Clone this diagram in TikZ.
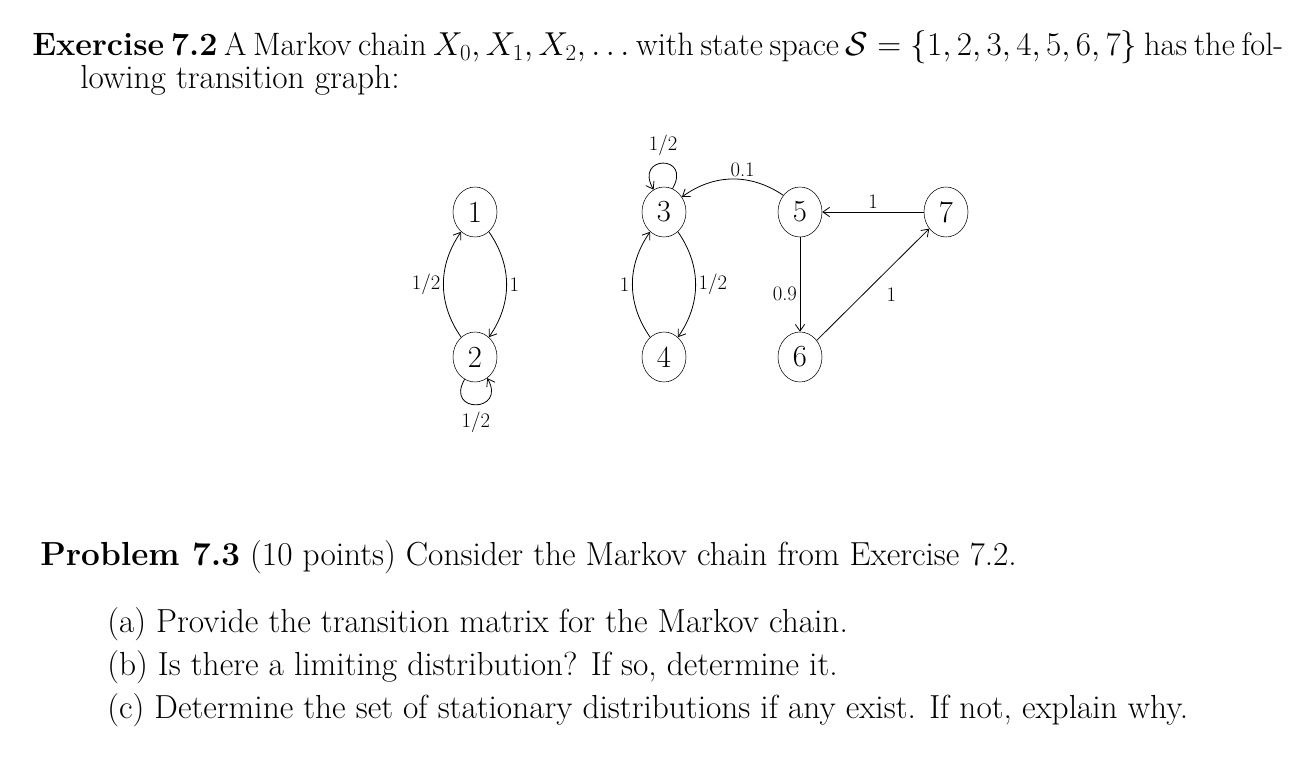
\documentclass[tikz,border=0pt]{standalone}
\usepackage{amsmath,amssymb}
\usetikzlibrary{shapes.geometric,arrows.meta}
\begin{document}
\begin{tikzpicture}[x=0.75pt,y=-0.75pt,
  st/.style={draw,ellipse,minimum width=33pt,minimum height=37.5pt,inner sep=0pt,font=\fontsize{23}{26}\selectfont},
  lab/.style={font=\fontsize{15.5}{18}\selectfont,inner sep=2pt},
  txt/.style={anchor=base west,inner sep=0pt,font=\fontsize{25}{28}\selectfont},
  ed/.style={->,>={Straight Barb[length=5pt,width=7pt]},line width=0.6pt}]
\useasboundingbox (0,0) rectangle (1314,784);
\node[txt,font=\fontsize{24.3}{28}\selectfont] (t1) at (32,56) {\spaceskip=0.3em plus 0.2em minus 0.2em\hbox to 938.25pt{\textbf{Exercise 7.2} A Markov chain $X_0,X_1,X_2,\ldots$ with state space $\mathcal{S}=\{1,2,3,4,5,6,7\}$ has the fol-}};
\node[txt] (t2) at (80,89) {lowing transition graph:};
\node[txt] (t3) at (40,565) {\textbf{Problem 7.3} (10 points) Consider the Markov chain from Exercise 7.2.};
\node[txt] (ta) at (107,632) {(a) Provide the transition matrix for the Markov chain.};
\node[txt] (tb) at (107,675) {(b) Is there a limiting distribution? If so, determine it.};
\node[txt] (tc) at (107,718) {(c) Determine the set of stationary distributions if any exist. If not, explain why.};
\node[st] (n1) at (475,212) {1};
\node[st] (n2) at (475,357) {2};
\node[st] (n3) at (664,212) {3};
\node[st] (n4) at (664,357) {4};
\node[st] (n5) at (800,212) {5};
\node[st] (n6) at (800,357) {6};
\node[st] (n7) at (946,212) {7};
\draw[ed] (n1) to[bend left=35] node[lab,right] {1} (n2);
\draw[ed] (n2) to[bend left=35] node[lab,left] {1/2} (n1);
\draw[ed] (n3) to[bend left=35] node[lab,right] {1/2} (n4);
\draw[ed] (n4) to[bend left=35] node[lab,left] {1} (n3);
\draw[ed] (n2.-115) .. controls +(-120:30pt) and +(-60:30pt) .. node[lab,below=3pt] {1/2} (n2.-60);
\draw[ed] (n3.70) .. controls +(60:30pt) and +(120:30pt) .. node[lab,above=3pt] {1/2} (n3.115);
\draw[ed] (n5.135) to[bend right=35] node[lab,above,pos=0.4] {0.1} (n3.40);
\draw[ed] (n7) -- node[lab,above] {1} (n5);
\draw[ed] (n5) -- node[lab,left,pos=0.6] {0.9} (n6);
\draw[ed] (n6) -- node[lab,below right,xshift=8pt] {1} (n7);
\end{tikzpicture}
\end{document}
